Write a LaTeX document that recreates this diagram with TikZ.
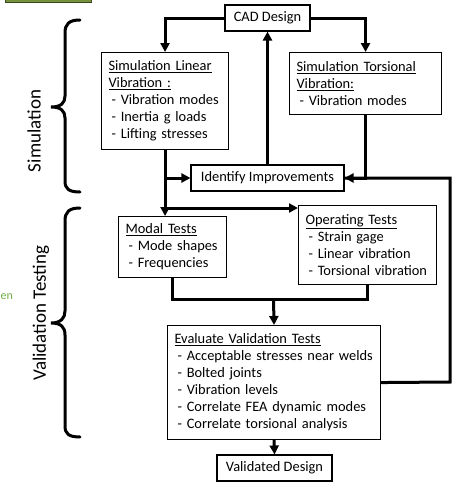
\documentclass[tikz,border=0pt]{standalone}
\usepackage{fontspec}
\setmainfont{Carlito}
\usetikzlibrary{arrows.meta}
\definecolor{olivegreen}{HTML}{76923C}
\definecolor{darkolive}{HTML}{3B4A1E}
\definecolor{lightgreen}{HTML}{70AD47}
\begin{document}
\begin{tikzpicture}[x=1pt,y=-1pt,
  box/.style={draw, line width=1.1pt, inner xsep=7pt, inner ysep=2pt, align=left,
    anchor=north west, font=\fontsize{14.4}{17}\selectfont},
  cbox/.style={draw, line width=1.1pt, inner sep=2pt, align=center,
    font=\fontsize{14.4}{17}\selectfont},
  conn/.style={line width=3pt, line join=miter},
  arr/.style={conn, -{Triangle[length=9pt,width=9pt]}},
  bracestyle/.style={line width=3pt, line cap=round},
  sidelabel/.style={rotate=90, font=\fontsize{19}{23}\selectfont}
]
\useasboundingbox (0,0) rectangle (474,491);

% cropped fragments at the left edge
\filldraw[fill=olivegreen, draw=darkolive, line width=0.8pt] (5,-3) rectangle (91,2.5);
\node[text=lightgreen, anchor=west, inner sep=0pt, font=\fontsize{12}{14}\selectfont] (frag) at (0.5,297) {en};

% boxes
\node[cbox, minimum width=85pt, minimum height=26pt] (cad) at (267.5,18) {CAD Design};
\node[box, minimum width=127pt, text width=113pt, minimum height=97pt] (lin) at (101,52)
  {\underline{Simulation Linear}\\\underline{Vibration :}\\\hspace{3pt}- Vibration modes\\\hspace{3pt}- Inertia g loads\\\hspace{3pt}- Lifting stresses};
\node[box, minimum width=152pt, text width=138pt, minimum height=62pt] (tor) at (289,52)
  {\underline{Simulation Torsional}\\\underline{Vibration:}\\\hspace{3pt}- Vibration modes};
\node[cbox, minimum width=153pt, minimum height=26pt] (idi) at (267.5,178) {Identify Improvements};
\node[box, minimum width=108pt, text width=94pt, minimum height=61pt] (modal) at (118,216)
  {\underline{Modal Tests}\\\hspace{3pt}- Mode shapes\\\hspace{3pt}- Frequencies};
\node[box, minimum width=138pt, text width=124pt, minimum height=79pt] (oper) at (298,205)
  {\underline{Operating Tests}\\\hspace{3pt}- Strain gage\\\hspace{3pt}- Linear vibration\\\hspace{3pt}- Torsional vibration};
\node[box, minimum width=213pt, text width=199pt, minimum height=114pt] (eval) at (167,325)
  {\underline{Evaluate Validation Tests}\\\hspace{3pt}- Acceptable stresses near welds\\\hspace{3pt}- Bolted joints\\\hspace{3pt}- Vibration levels\\\hspace{3pt}- Correlate FEA dynamic modes\\\hspace{3pt}- Correlate torsional analysis};
\node[cbox, minimum width=115pt, minimum height=26pt] (valid) at (274.5,468) {Validated Design};

% helper coordinates
\coordinate (opin) at ([yshift=-3pt]oper.north west);
\coordinate (merge) at (273.5,299);
\coordinate (rr) at (450,382);

% connectors
\draw[arr] (cad.west) -| (lin.north);
\draw[arr] (cad.east) -| (tor.north);
\draw[arr] (idi.north) -- (cad.south);
\draw[arr] (tor.south) |- (idi.east);
\draw[conn] (eval.east) -- (rr) |- (idi.east);
\draw[arr] (lin.south) -- (lin.south |- modal.north);
\draw[arr] (lin.south |- idi.west) -- (idi.west);
\draw[arr] (lin.south |- opin) -- (opin);
\draw[conn] (modal.south) |- (merge);
\draw[conn] (oper.south) |- (merge);
\draw[arr] (merge) -- (eval.north);
\draw[arr] (eval.south) -- (valid.north);

% braces
\draw[bracestyle] (80,20) .. controls (69,20) and (65,24) .. (65,33) -- (65,96)
  .. controls (65,103) and (61,107) .. (51,107)
  .. controls (61,107) and (65,111) .. (65,118) -- (65,181)
  .. controls (65,189) and (69,192) .. (80,192);
\draw[bracestyle] (80,208) .. controls (69,208) and (65,212) .. (65,221) -- (65,311)
  .. controls (65,318) and (61,323) .. (51,323)
  .. controls (61,323) and (65,327) .. (65,335) -- (65,426)
  .. controls (65,434) and (69,437) .. (80,437);

% side labels
\node[sidelabel] (simlab) at (34,131) {Simulation};
\node[sidelabel] (vallab) at (41,313) {Validation Testing};
\end{tikzpicture}
\end{document}
